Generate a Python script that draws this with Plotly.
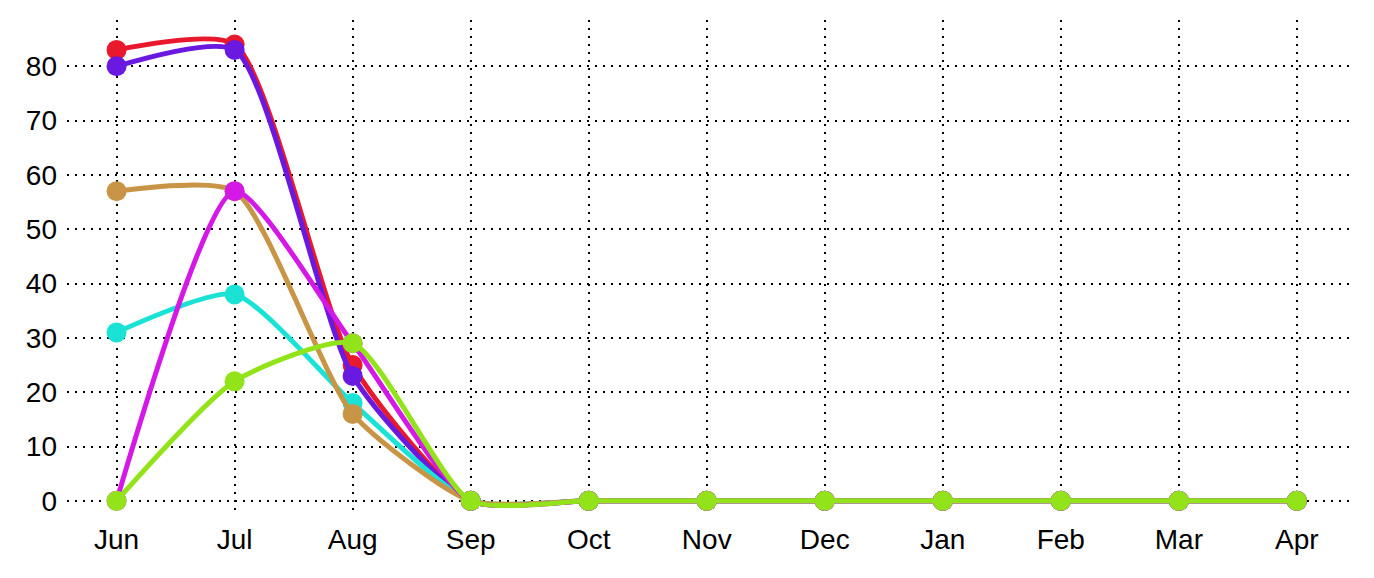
import plotly.graph_objects as go

months = ["Jun", "Jul", "Aug", "Sep", "Oct", "Nov", "Dec", "Jan", "Feb", "Mar", "Apr"]

serie_red = [83, 84, 25, 0, 0, 0, 0, 0, 0, 0, 0]
serie_purple = [80, 83, 23, 0, 0, 0, 0, 0, 0, 0, 0]
serie_cyan = [31, 38, 18, 0, 0, 0, 0, 0, 0, 0, 0]
serie_tan = [57, 57, 16, 0, 0, 0, 0, 0, 0, 0, 0]
serie_magenta = [0, 57, 29, 0, 0, 0, 0, 0, 0, 0, 0]
serie_green = [0, 22, 29, 0, 0, 0, 0, 0, 0, 0, 0]

series = [
    (serie_red, "#e8192c"),
    (serie_purple, "#6a1ae0"),
    (serie_cyan, "#1ae3d6"),
    (serie_tan, "#c79545"),
    (serie_magenta, "#d419e6"),
    (serie_green, "#93e31b"),
]

fig = go.Figure()
for valores, cor in series:
    fig.add_trace(go.Scatter(
        x=months,
        y=valores,
        mode="lines+markers",
        line=dict(color=cor, width=5, shape="spline", smoothing=0.6),
        marker=dict(color=cor, size=20),
        showlegend=False))

grade = dict(showgrid=True, gridcolor="black", gridwidth=1.5,
             griddash="2px,6px", zeroline=False, showline=False,
             automargin=False, ticks="",
             tickfont=dict(family="Liberation Sans, Arial", size=28, color="black"))

fig.update_xaxes(range=[-0.42, 10.45], ticklabelstandoff=5, **grade)
fig.update_yaxes(range=[-2.6, 88.5], tickvals=[0, 10, 20, 30, 40, 50, 60, 70, 80],
                 ticklabelstandoff=9, **grade)
fig.update_layout(
    width=1366,
    height=570,
    margin=dict(l=59, r=24, t=12, b=63),
    plot_bgcolor="white",
    paper_bgcolor="white")
fig.write_html("out.html")
